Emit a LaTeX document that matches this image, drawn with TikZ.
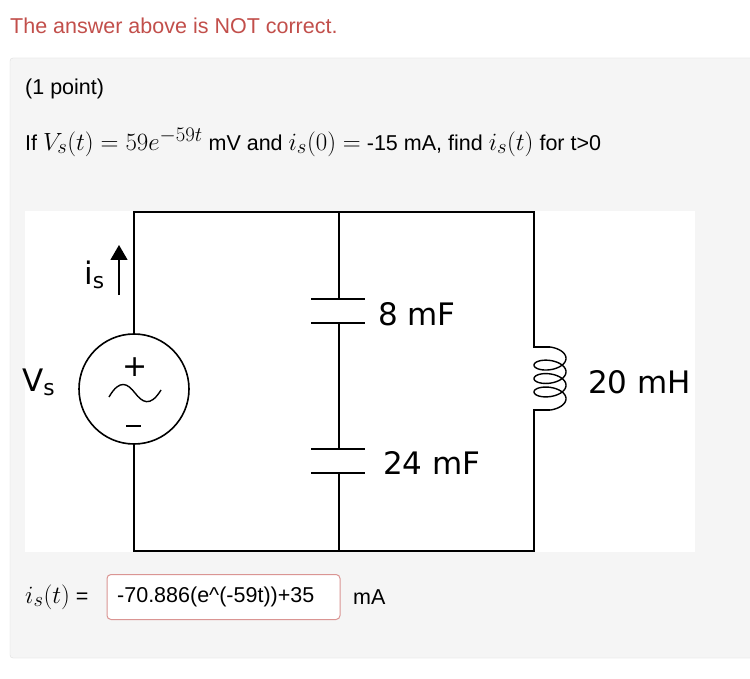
\documentclass[tikz,border=0pt]{standalone}
\usepackage{fontspec}
\setmainfont{Liberation Sans}
\newfontfamily\dv{DejaVu Sans}
\usetikzlibrary{arrows.meta}
\definecolor{errred}{HTML}{C24F4B}
\definecolor{panel}{HTML}{F5F5F5}
\definecolor{pborder}{HTML}{DDDDDD}
\newcommand{\bm}[1]{{\fontsize{31}{34}\selectfont$#1$}}
\begin{document}
\begin{tikzpicture}[x=1pt,y=-1pt,
  wire/.style={line width=1.6pt},
  txt/.style={inner sep=0pt,anchor=west,font=\fontsize{21.5}{24}\selectfont},
  clab/.style={inner sep=0pt,anchor=west,font=\dv\fontsize{31}{34}\selectfont}]
\useasboundingbox (0,0) rectangle (750,679);
\fill[white] (0,0) rectangle (750,679);
\node[txt,text=errred] (hdr) at (10,26) {The answer above is NOT correct.};
\draw[pborder,fill=panel,rounded corners=3pt] (10,58) rectangle (760,658);
\node[txt] (pt) at (25,89) {(1 point)};
\node[txt] (q) at (25,142) {If \bm{V_s(t) = 59e^{-59t}} mV and \bm{i_s(0) =} -15 mA, find \bm{i_s(t)} for t>0};
\fill[white] (25,211) rectangle (695,552);
% circuit
\coordinate (tl) at (134,212); \coordinate (tm) at (339,212); \coordinate (tr) at (534,212);
\coordinate (bl) at (134,551); \coordinate (bm) at (339,551); \coordinate (br) at (534,551);
\node[draw,circle,line width=1.6pt,minimum size=110pt,inner sep=0pt] (src) at (134,389) {};
\draw[wire] (src.north) -- (tl) -- (tr) -- (534,347) -- (550,347);
\draw[wire] (src.south) -- (bl) -- (br) -- (534,410) -- (550,410);
\draw[wire] (tm) -- (339,299); \draw[wire] (311,299) -- (365,299);
\draw[wire] (311,323) -- (365,323); \draw[wire] (339,323) -- (339,449);
\draw[wire] (311,449) -- (365,449); \draw[wire] (311,473) -- (365,473);
\draw[wire] (339,473) -- (bm);
% inductor
\draw[line width=1.4pt] plot[domain=0:21.99,samples=200,smooth] ({550+16*sin(\x r)},{347+2.14*\x+8*(1-cos(\x r))});
\node[font=\dv\fontsize{30}{30}\selectfont,inner sep=0pt] (plus) at (135,367) {+};
\draw[line width=1.8pt] (126,426) -- (141,426);
\draw[line width=1.4pt] (109,397) .. controls (120,378) and (128,384) .. (135,393) .. controls (142,402) and (150,408) .. (161,390);
\node[clab] (vs) at (22,382) {V\textsubscript{s}};
\node[clab] (is) at (84,275) {i\textsubscript{s}};
\coordinate (a1) at (119,295); \coordinate (a2) at (119,245);
\draw[line width=1.4pt,-{Triangle[length=15pt,width=17pt]}] (a1) -- (a2);
\node[clab] (c1) at (378,314) {8 mF};
\node[clab] (c2) at (383,463) {24 mF};
\node[clab] (l1) at (588,382) {20 mH};
% answer
\node[txt] (ans) at (25,597) {\bm{i_s(t)} =};
\node[draw=errred!60,fill=white,rounded corners=4pt,minimum width=233pt,minimum height=45pt,line width=1pt] (box) at (223.5,597) {};
\node[txt] (val) at (117,597) {-70.886(e\textasciicircum(-59t))+35};
\node[txt] (ma) at (353,597) {mA};
\end{tikzpicture}
\end{document}
